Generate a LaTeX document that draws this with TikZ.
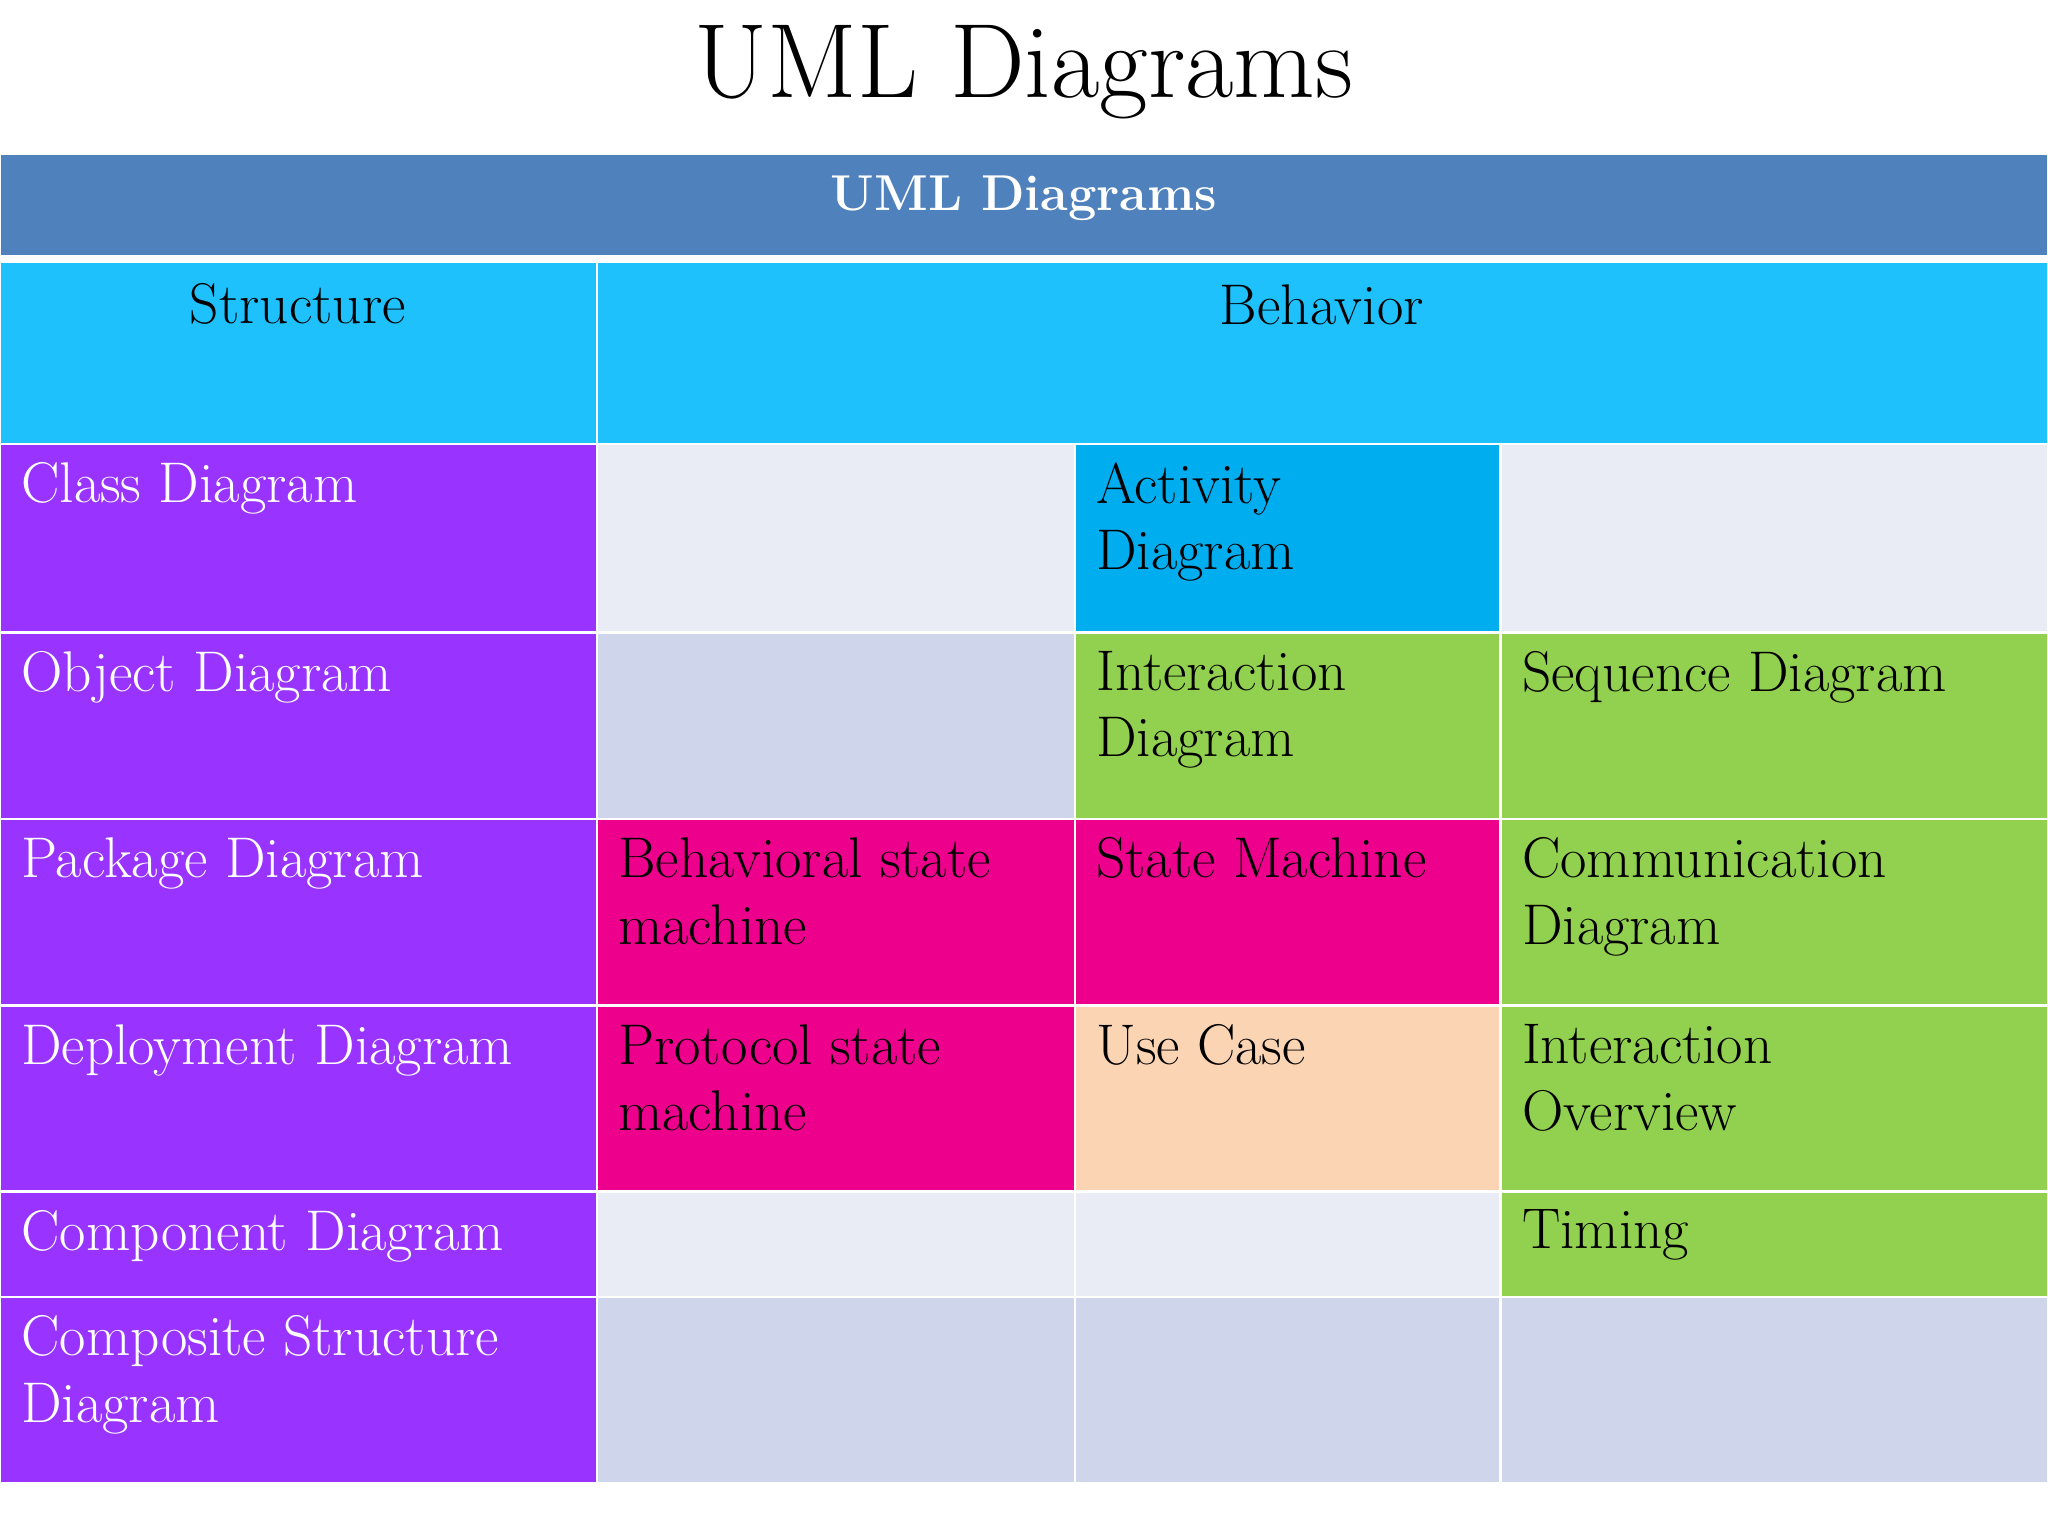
\documentclass[tikz,border=0pt]{standalone}
\usepackage{tikz}
\definecolor{hdrblue}{HTML}{4F81BD}
\definecolor{skyblue}{HTML}{1FC1FC}
\definecolor{umlpurple}{HTML}{9933FF}
\definecolor{palegray}{HTML}{E9EBF5}
\definecolor{bluegray}{HTML}{CFD5EA}
\definecolor{umlgreen}{HTML}{92D050}
\definecolor{umlpeach}{HTML}{FBD4B4}
\tikzstyle{celltext} = [anchor=north west, align=left, inner xsep=0.32cm, inner ysep=0.28cm, font=\fontsize{25}{29}\selectfont]
\tikzstyle{cellbox} = [draw=white, line width=1.2pt]
\newcommand{\umlcell}[7]{%
  \filldraw[cellbox, fill=#6] (#2,#3) rectangle (#4,#5);
  \node (#1) [celltext] at (#2,#3) {#7};}

\begin{document}
\begin{tikzpicture}[x=0.02cm, y=-0.02cm]
	\useasboundingbox (0,0) rectangle (1568,1176);
	
	\node (title) at (784,55) {\fontsize{46}{50}\selectfont UML Diagrams};
	\filldraw[cellbox, fill=hdrblue] (0,118) rectangle (1568,196);
	\node (head) [text=white, font=\fontsize{22}{26}\selectfont\bfseries] at (784,152) {UML Diagrams};
	\filldraw[cellbox, fill=skyblue] (0,200) rectangle (457,340);
	\filldraw[cellbox, fill=skyblue] (457,200) rectangle (1568,340);
	\node (structure) [font=\fontsize{25}{29}\selectfont] at (228,233) {Structure};
	\node (behavior) [font=\fontsize{25}{29}\selectfont] at (1012,233) {Behavior};
	
	% structure column
	\umlcell{cls}{0}{340}{457}{484}{umlpurple}{\color{white}Class Diagram}
	\umlcell{obj}{0}{484}{457}{627}{umlpurple}{\color{white}Object Diagram}
	\umlcell{pkg}{0}{627}{457}{770}{umlpurple}{\color{white}Package Diagram}
	\umlcell{dep}{0}{770}{457}{912}{umlpurple}{\color{white}Deployment Diagram}
	\umlcell{cmp}{0}{912}{457}{993}{umlpurple}{\color{white}Component Diagram}
	\umlcell{csd}{0}{993}{457}{1136}{umlpurple}{\color{white}Composite Structure\\\color{white}Diagram}
	
	% behavior columns
	\umlcell{e1}{457}{340}{823}{484}{palegray}{}
	\umlcell{act}{823}{340}{1149}{484}{cyan}{Activity\\Diagram}
	\umlcell{e2}{1149}{340}{1568}{484}{palegray}{}
	\umlcell{e3}{457}{484}{823}{627}{bluegray}{}
	\umlcell{inter}{823}{484}{1149}{627}{umlgreen}{Interaction\\Diagram}
	\umlcell{seq}{1149}{484}{1568}{627}{umlgreen}{Sequence Diagram}
	\umlcell{bsm}{457}{627}{823}{770}{magenta}{Behavioral state\\machine}
	\umlcell{sm}{823}{627}{1149}{770}{magenta}{State Machine}
	\umlcell{comm}{1149}{627}{1568}{770}{umlgreen}{Communication\\Diagram}
	\umlcell{psm}{457}{770}{823}{912}{magenta}{Protocol state\\machine}
	\umlcell{uc}{823}{770}{1149}{912}{umlpeach}{Use Case}
	\umlcell{io}{1149}{770}{1568}{912}{umlgreen}{Interaction\\Overview}
	\umlcell{e4}{457}{912}{823}{993}{palegray}{}
	\umlcell{e5}{823}{912}{1149}{993}{palegray}{}
	\umlcell{tim}{1149}{912}{1568}{993}{umlgreen}{Timing}
	\umlcell{e6}{457}{993}{823}{1136}{bluegray}{}
	\umlcell{e7}{823}{993}{1149}{1136}{bluegray}{}
	\umlcell{e8}{1149}{993}{1568}{1136}{bluegray}{}
	
\end{tikzpicture}
\end{document}
